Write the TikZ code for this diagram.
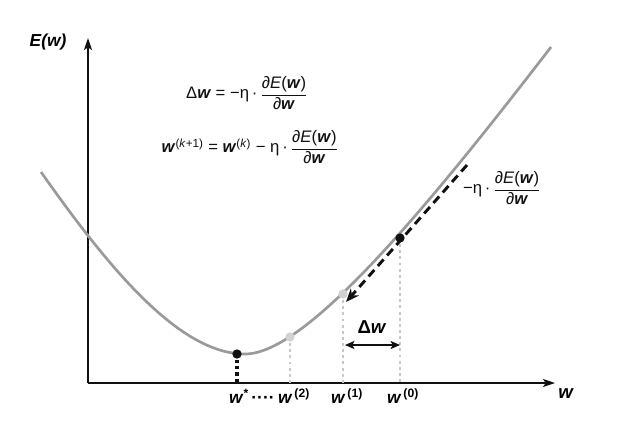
\documentclass[tikz,border=0pt]{standalone}
\usepackage{amsmath}
\usepackage{fontspec}
\setmainfont{Liberation Sans}
\usetikzlibrary{arrows.meta,positioning}
\definecolor{ccurve}{HTML}{9A9A9A}
\definecolor{cdotlight}{HTML}{D2D2D2}
\definecolor{cdrop}{HTML}{C8C8C8}
\definecolor{ctextdark}{HTML}{111111}
\newcommand{\wvec}{\textbf{\textit{w}}}
\newcommand{\dEdw}{$\dfrac{\text{∂\textit{E}(\wvec)}}{\text{∂\wvec}}$}

\begin{document}
\begin{tikzpicture}[
    x=0.75pt, y=-0.75pt,
    >=Stealth,
    font=\fontsize{12.5}{15}\selectfont,
    axisline/.style={->,line width=1.1pt,ctextdark,
        >={Stealth[length=9pt,width=6pt,open,fill=ctextdark,inset=2pt]}},
    curveline/.style={line width=2pt,ccurve},
    blackdot/.style={circle,fill=ctextdark,inner sep=0pt,minimum size=7pt},
    graydot/.style={circle,fill=cdotlight,inner sep=0pt,minimum size=7pt},
    graydrop/.style={line width=1.6pt,cdrop,dash pattern=on 2.2pt off 2.4pt},
    blackdrop/.style={line width=2.4pt,ctextdark,dash pattern=on 2.4pt off 2.2pt},
    tangentarrow/.style={-{Stealth[length=10pt,width=8pt]},line width=2.2pt,
        ctextdark,dash pattern=on 6.5pt off 4pt},
    steplabel/.style={font=\fontsize{13}{15}\selectfont\bfseries,anchor=base},
    formula/.style={align=center,text=ctextdark},
]
\useasboundingbox (0,0) rectangle (623,424);

% ============================================================
% AXES
% ============================================================
\coordinate (origin) at (88,383);
\coordinate (ytop) at (88,38);
\coordinate (xend) at (555,383);

\draw[axisline] (origin) -- (ytop);
\draw[axisline] (origin) -- (xend);

\node[font=\fontsize{13}{15}\selectfont] (elabel) at (48,42)
    {\textbf{\textit{E(w)}}};
\node[font=\fontsize{14}{16}\selectfont] (wlabel) at (566,394)
    {\textbf{\textit{w}}};

% ============================================================
% ERROR CURVE
% ============================================================
\coordinate (cstart) at (41,172);
\coordinate (cmin) at (245,354);
\coordinate (cend) at (551,47);
\draw[curveline] (cstart) .. controls (110,270) and (180,354) .. (cmin)
    .. controls (305,354) and (421,216) .. (cend);

% ============================================================
% ITERATES
% ============================================================
\coordinate (w0) at (400,238);
\coordinate (w1) at (343,294);
\coordinate (w2) at (290,337);
\coordinate (wstar) at (237,354);

\draw[graydrop] (w0) -- (w0 |- origin);
\draw[graydrop] (w1) -- (w1 |- origin);
\draw[graydrop] (w2) -- (w2 |- origin);
\draw[blackdrop] (wstar) -- (wstar |- origin);

\node[graydot] (dot2) at (w2) {};
\node[graydot] (dot1) at (w1) {};
\node[blackdot] (dotstar) at (wstar) {};
\node[blackdot] (dot0) at (w0) {};

% gradient step along the tangent
\coordinate (tanstart) at (467,165);
\coordinate (tanend) at (346,302);
\draw[tangentarrow] (tanstart) -- (tanend);

% step width
\coordinate (dwl) at (345,345);
\coordinate (dwr) at (400,345);
\draw[<->,line width=1.2pt,ctextdark,
    >={Stealth[length=7pt,width=6pt,open,fill=ctextdark,inset=1.5pt]}]
    (dwl) -- (dwr);
\node[font=\fontsize{14}{16}\selectfont\bfseries] (dwlabel) at (372,327)
    {Δ\textit{w}};

% ============================================================
% LABELS UNDER THE AXIS
% ============================================================
\node[steplabel] (lstar) at (239,403) {\textit{w}\textsuperscript{*}};
\node[steplabel] (ldots) at (263,403) {····};
\node[steplabel] (l2) at (294,403) {\textit{w}\textsuperscript{\,(2)}};
\node[steplabel] (l1) at (347,403) {\textit{w}\textsuperscript{\,(1)}};
\node[steplabel] (l0) at (403,403) {\textit{w}\textsuperscript{\,(0)}};

% ============================================================
% FORMULAS
% ============================================================
\node[formula] (update) at (247,93)
    {Δ\wvec\ = −η\,·\,\dEdw};
\node[formula] (rule) at (250,147)
    {\wvec\textsuperscript{(\textit{k}+1)} = \wvec\textsuperscript{(\textit{k})}
     − η\,·\,\dEdw};
\node[formula] (stepsize) at (502,188)
    {−η\,·\,\dEdw};

\end{tikzpicture}
\end{document}
